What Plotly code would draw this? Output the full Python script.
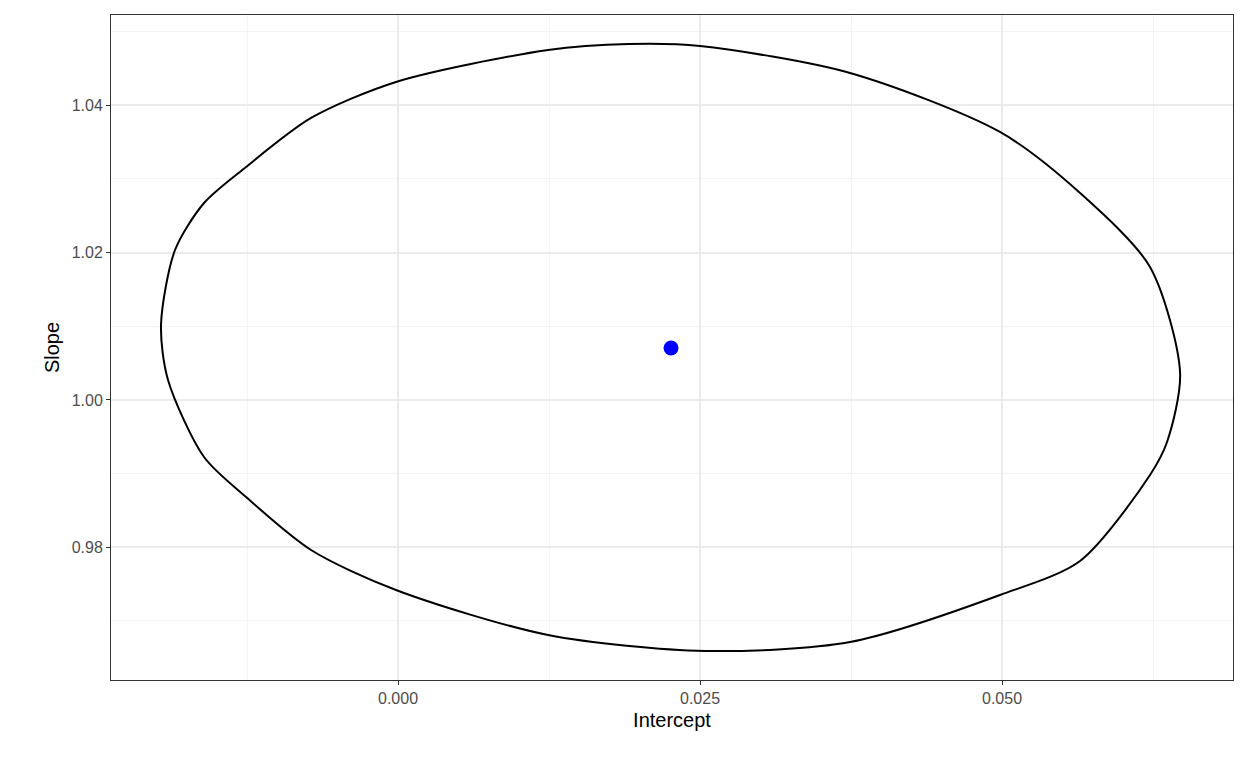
import plotly.graph_objects as go

ell_x = [-0.01962, -0.01846, -0.01606, -0.01258, -0.00720, -0.00017, 0.01242, 0.01912, 0.02500, 0.03742,
         0.04983, 0.05646, 0.06225, 0.06474, 0.06366, 0.06225, 0.05646, 0.04983, 0.03742, 0.02541,
         0.01242, -0.00017, -0.00720, -0.01258, -0.01606, -0.01904, -0.01962]
ell_y = [1.01018, 1.02036, 1.02674, 1.03163, 1.03828, 1.04317, 1.04751, 1.04832, 1.04805, 1.04439,
         1.03638, 1.02810, 1.01805, 1.00367, 0.99430, 0.98982, 0.97815, 0.97353, 0.96715, 0.96593,
         0.96810, 0.97421, 0.97964, 0.98683, 0.99226, 1.00271, 1.01018]
est_x = [0.02260]
est_y = [1.00706]

fig = go.Figure()
fig.add_trace(go.Scatter(x=ell_x, y=ell_y, mode="lines",
                         line=dict(color="black", width=2, shape="spline", smoothing=0.8), hoverinfo="skip"))
fig.add_trace(go.Scatter(x=est_x, y=est_y, mode="markers", marker=dict(color="blue", size=15)))

ax = dict(showline=True, linecolor="#333333", linewidth=1, mirror=True, zeroline=False,
          gridcolor="#ebebeb", gridwidth=1.5, ticks="outside", tickcolor="#333333", ticklen=4,
          tickfont=dict(size=16, color="#4d4d4d", family="Liberation Sans"),
          minor=dict(showgrid=True, gridcolor="#f3f3f3", gridwidth=1))
fig.update_xaxes(**ax, range=[-0.02376, 0.06912], tickvals=[0, 0.025, 0.05], ticktext=["0.000", "0.025", "0.050"],
                 minor_tickvals=[-0.0125, 0.0125, 0.0375, 0.0625],
                 title=dict(text="Intercept", font=dict(size=20, color="black", family="Liberation Sans"), standoff=6))
fig.update_yaxes(**ax, range=[0.96199, 1.05226], tickvals=[0.98, 1.00, 1.02, 1.04], ticktext=["0.98", "1.00", "1.02", "1.04"],
                 minor_tickvals=[0.97, 0.99, 1.01, 1.03, 1.05],
                 title=dict(text="Slope", font=dict(size=20, color="black", family="Liberation Sans"), standoff=6))
fig.update_layout(width=1232, height=752, margin=dict(l=103, r=7, t=7, b=80),
                  plot_bgcolor="white", paper_bgcolor="white", showlegend=False)
fig.write_html("out.html")
